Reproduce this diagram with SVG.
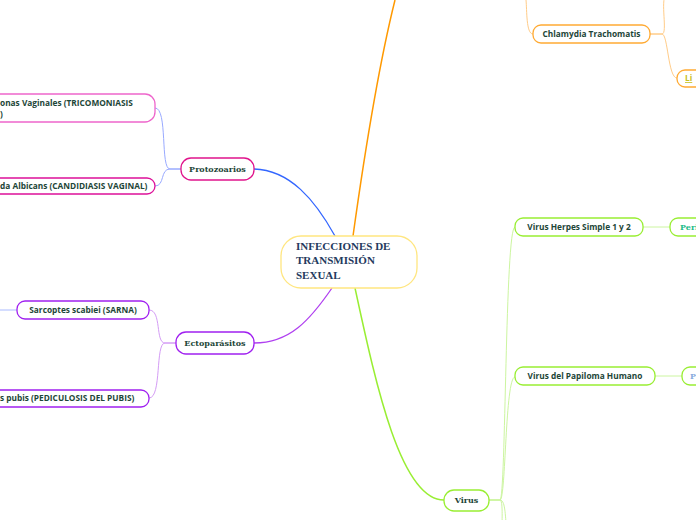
<svg xmlns="http://www.w3.org/2000/svg" width="696" height="520" viewBox="0 0 696 520">
<style>
.n{fill:#fff;stroke-width:1.3}
.t{font-family:"Open Sans",sans-serif;font-weight:bold;font-size:8.3px;fill:#1d4638}
.b{font-family:"DejaVu Serif",serif;font-weight:bold;font-size:8px;fill:#1d4638}
.c{fill:none}
</style>
<g id="connectors" class="c">
<path d="M335,236 C315,200 290,170 254,169" stroke="#3366ff" stroke-width="1.3"/>
<path d="M332,288 C310,320 290,343 254,343" stroke="#b040f0" stroke-width="1.3"/>
<path d="M353,236 C365,150 380,60 395,0" stroke="#ff9900" stroke-width="1.5"/>
<path d="M355,288 C375,380 400,500 444,500" stroke="#99ee33" stroke-width="1.5"/>
<path d="M181,169 L170,169 C160,169 168,108 155,108" stroke="#99aaff"/>
<path d="M181,169 L170,169 C160,169 165,186 155,186" stroke="#99aaff"/>
<path d="M176,343 L165,343 C155,343 162,310 149,310" stroke="#d49cf5"/>
<path d="M176,343 L165,343 C155,343 162,398 149,398" stroke="#d49cf5"/>
<path d="M0,310 L17,310" stroke="#aabbff"/>
<path d="M650,34 L662,34 C668,34 660,0 666,-5" stroke="#ffcc88"/>
<path d="M650,34 L662,34 C668,34 668,78 677,78" stroke="#ffcc88"/>
<path d="M533,34 C526,34 527,10 526,0" stroke="#ffcc88"/>
<path d="M489,500 L500,500 C506,500 505,227 515,227" stroke="#ccf5a0"/>
<path d="M489,500 L500,500 C506,500 505,377 515,377" stroke="#ccf5a0"/>
<path d="M489,500 L500,500 C506,500 505,520 507,530" stroke="#ccf5a0"/>
<path d="M489,500 L500,500 C503,500 502,520 502,530" stroke="#ccf5a0"/>
<path d="M643,227 L670,227" stroke="#ccf5a0"/>
<path d="M655,376 L682,376" stroke="#ccf5a0"/>
</g>
<g id="center"><rect x="281" y="236" width="136" height="52" rx="20" class="n" stroke="#ffe680"/>
<text font-family="Liberation Serif,serif" font-weight="bold" font-size="11" fill="#243a5e"><tspan x="296" y="250">INFECCIONES DE</tspan><tspan x="296" y="264">TRANSMISIÓN</tspan><tspan x="296" y="279">SEXUAL</tspan></text></g>
<g id="protozoarios"><rect x="181" y="158" width="73" height="22" rx="10" class="n" stroke="#e0148c"/><text class="b" x="217.5" y="172" text-anchor="middle">Protozoarios</text></g>
<g id="tricomonas"><rect x="-20" y="94" width="175" height="28" rx="10" class="n" stroke="#ee66cc"/><text class="t"><tspan x="0" y="106">onas Vaginales (TRICOMONIASIS</tspan><tspan x="0" y="117">)</tspan></text></g>
<g id="candida"><rect x="-20" y="178" width="175" height="16" rx="8" class="n" stroke="#dd1199"/><text class="t" x="0" y="189">da Albicans (CANDIDIASIS VAGINAL)</text></g>
<g id="ectoparasitos"><rect x="176" y="332" width="78" height="22" rx="10" class="n" stroke="#a020f0"/><text class="b" x="215" y="346" text-anchor="middle">Ectoparásitos</text></g>
<g id="sarcoptes"><rect x="17" y="301" width="132" height="18" rx="8" class="n" stroke="#a020f0"/><text class="t" x="83" y="313" text-anchor="middle">Sarcoptes scabiei (SARNA)</text></g>
<g id="pediculosis"><rect x="-20" y="390" width="169" height="17" rx="8" class="n" stroke="#a020f0"/><text class="t" x="0" y="401">s pubis (PEDICULOSIS DEL PUBIS)</text></g>
<g id="chlamydia"><rect x="533" y="25" width="117" height="18" rx="8" class="n" stroke="#ffaa33"/><text class="t" x="591.5" y="37" text-anchor="middle">Chlamydia Trachomatis</text></g>
<g id="li"><rect x="677" y="70" width="40" height="17" rx="8" class="n" stroke="#ffaa33"/><text class="t" x="685" y="81" style="fill:#c8c020;text-decoration:underline">Li</text></g>
<g id="virus"><rect x="444" y="490" width="45" height="21" rx="10" class="n" stroke="#99ee33"/><text class="b" x="466.5" y="503" text-anchor="middle">Virus</text></g>
<g id="herpes"><rect x="515" y="218" width="128" height="18" rx="8" class="n" stroke="#99ee33"/><text class="t" x="579" y="230" text-anchor="middle">Virus Herpes Simple 1 y 2</text></g>
<g id="papiloma"><rect x="515" y="367" width="140" height="18" rx="8" class="n" stroke="#99ee33"/><text class="t" x="585" y="379" text-anchor="middle">Virus del Papiloma Humano</text></g>
<g id="peri"><rect x="670" y="218" width="50" height="18" rx="8" class="n" stroke="#99ee33"/><text class="b" x="680" y="230" style="fill:#22bb88">Peri</text></g>
<g id="p2"><rect x="682" y="367" width="40" height="18" rx="8" class="n" stroke="#99ee33"/><text class="b" x="690" y="379" style="fill:#88aadd">P</text></g>
</svg>
